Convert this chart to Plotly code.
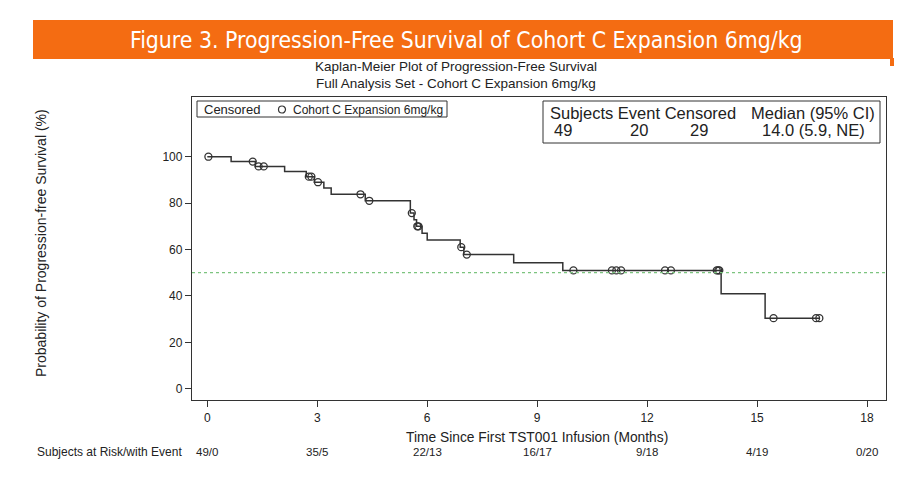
import plotly.graph_objects as go

# ---------------- data ----------------
step_times = [0, 0.65, 1.31, 2.11, 2.70, 2.92, 3.18, 3.38, 4.31, 5.54, 5.64, 5.71,
              5.86, 6.00, 6.90, 7.00, 8.36, 9.70, 14.02, 15.22, 16.70]
step_surv = [100, 97.9, 95.8, 93.6, 91.4, 89.0, 86.5, 83.8, 81.0, 75.7, 72.8, 70.0,
             67.0, 64.1, 61.0, 57.8, 54.3, 51.0, 40.9, 30.4, 30.4]

censor_times = [0.03, 1.24, 1.40, 1.54, 2.77, 2.84, 3.02, 4.18, 4.42, 5.58, 5.73, 5.76,
                6.93, 7.08, 9.99, 11.04, 11.16, 11.29, 12.49, 12.65, 13.90, 13.94,
                13.97, 15.45, 16.61, 16.70]
censor_surv = [100, 97.9, 95.8, 95.8, 91.4, 91.4, 89.0, 83.8, 81.0, 75.7, 70.0, 70.0,
               61.0, 57.8, 51.0, 51.0, 51.0, 51.0, 51.0, 51.0, 51.0, 51.0,
               51.0, 30.4, 30.4, 30.4]

x_ticks = [0, 3, 6, 9, 12, 15, 18]
y_ticks = [0, 20, 40, 60, 80, 100]
risk_labels = ["49/0", "35/5", "22/13", "16/17", "9/18", "4/19", "0/20"]
median_line = 50

stats_header_left = "Subjects Event Censored"
stats_header_right = "Median (95% CI)"
stats_values = ["49", "20", "29", "14.0 (5.9, NE)"]

title_text = "Figure 3. Progression-Free Survival of Cohort C Expansion 6mg/kg"
subtitle1 = "Kaplan-Meier Plot of Progression-Free Survival"
subtitle2 = "Full Analysis Set - Cohort C Expansion 6mg/kg"

# ---------------- layout geometry (reference pixels) ----------------
OFF = 8  # page body margin in the browser
WIDTH, HEIGHT = 921 - OFF, 484 - OFF
L, R, T, B = 192, 886, 97, 400
PW, PH = R - L, B - T


def px(x):
    return (x - L) / PW


def py(y):
    return (B - y) / PH


ARIAL = "Liberation Sans, Arial, sans-serif"
TXT = "#222222"
LINE = "#333333"

fig = go.Figure()

fig.add_trace(go.Scatter(
    x=step_times, y=step_surv, mode="lines", line_shape="hv",
    line=dict(color=LINE, width=1.5), hoverinfo="skip", showlegend=False))

fig.add_trace(go.Scatter(
    x=censor_times, y=censor_surv, mode="markers",
    marker=dict(symbol="circle-open", size=7, color=LINE, line=dict(width=1.3)),
    hoverinfo="skip", showlegend=False))

shapes = []
annotations = []

# orange banner
shapes.append(dict(type="rect", xref="paper", yref="paper",
                   x0=px(33), x1=px(893), y0=py(59), y1=py(20),
                   fillcolor="#F46C12", line=dict(width=0), layer="below"))
shapes.append(dict(type="rect", xref="paper", yref="paper",
                   x0=px(890), x1=px(894), y0=py(66), y1=py(58),
                   fillcolor="#F46C12", line=dict(width=0), layer="below"))
annotations.append(dict(text=title_text, xref="paper", yref="paper",
                        x=px(466), y=py(40), xanchor="center", yanchor="middle",
                        showarrow=False,
                        font=dict(family="DejaVu Sans Condensed, Liberation Sans Narrow, sans-serif",
                                  size=22.8, color="white")))

# subtitles
annotations.append(dict(text=subtitle1, xref="paper", yref="paper",
                        x=px(456), y=py(67), xanchor="center", yanchor="middle",
                        showarrow=False, font=dict(family=ARIAL, size=13.5, color=TXT)))
annotations.append(dict(text=subtitle2, xref="paper", yref="paper",
                        x=px(456), y=py(83), xanchor="center", yanchor="middle",
                        showarrow=False, font=dict(family=ARIAL, size=13.5, color=TXT)))

# median reference line
shapes.append(dict(type="line", xref="paper", yref="y", x0=0, x1=1,
                   y0=median_line, y1=median_line,
                   line=dict(color="#7CC47F", width=1.2, dash="dot")))

# legend box
shapes.append(dict(type="rect", xref="paper", yref="paper",
                   x0=px(197), x1=px(447), y0=py(117), y1=py(101),
                   line=dict(color=LINE, width=1), fillcolor="white"))
annotations.append(dict(text="Censored", xref="paper", yref="paper",
                        x=px(202), y=py(109.5), xanchor="left", yanchor="middle",
                        showarrow=False, font=dict(family=ARIAL, size=13, color=TXT)))
shapes.append(dict(type="circle", xref="paper", yref="paper",
                   xsizemode="pixel", ysizemode="pixel",
                   xanchor=px(282), yanchor=py(109.5),
                   x0=-3.5, x1=3.5, y0=-3.5, y1=3.5,
                   line=dict(color=LINE, width=1.2)))
annotations.append(dict(text="Cohort C Expansion 6mg/kg", xref="paper", yref="paper",
                        x=px(291), y=py(109.5), xanchor="left", yanchor="middle",
                        showarrow=False, font=dict(family=ARIAL, size=12, color=TXT)))

# stats box
shapes.append(dict(type="rect", xref="paper", yref="paper",
                   x0=px(543), x1=px(880), y0=py(143), y1=py(101),
                   line=dict(color=LINE, width=1), fillcolor="white"))
annotations.append(dict(text=stats_header_left, xref="paper", yref="paper",
                        x=px(548), y=py(113), xanchor="left", yanchor="middle",
                        showarrow=False, font=dict(family=ARIAL, size=16.5, color=TXT)))
annotations.append(dict(text=stats_header_right, xref="paper", yref="paper",
                        x=px(877), y=py(113), xanchor="right", yanchor="middle",
                        showarrow=False, font=dict(family=ARIAL, size=16.5, color=TXT)))
val_x = [552, 628, 688, 867]
val_anchor = ["left", "left", "left", "right"]
for txt, xx, an in zip(stats_values, val_x, val_anchor):
    annotations.append(dict(text=txt, xref="paper", yref="paper",
                            x=px(xx), y=py(130), xanchor=an, yanchor="middle",
                            showarrow=False, font=dict(family=ARIAL, size=16.5, color=TXT)))

# risk table
annotations.append(dict(text="Subjects at Risk/with Event", xref="paper", yref="paper",
                        x=px(35), y=py(452), xanchor="left", yanchor="middle",
                        showarrow=False, font=dict(family=ARIAL, size=12, color=TXT)))
for xt, lab in zip(x_ticks, risk_labels):
    annotations.append(dict(text=lab, xref="x", yref="paper",
                            x=xt, y=py(452), xanchor="center", yanchor="middle",
                            showarrow=False, font=dict(family=ARIAL, size=11.5, color=TXT)))

# axis titles
annotations.append(dict(text="Time Since First TST001 Infusion (Months)", xref="paper", yref="paper",
                        x=px(537), y=py(437), xanchor="center", yanchor="middle",
                        showarrow=False, font=dict(family=ARIAL, size=13.8, color=TXT)))
annotations.append(dict(text="Probability of Progression-free Survival (%)", xref="paper", yref="paper",
                        x=px(41), y=py(243), xanchor="center", yanchor="middle", textangle=-90,
                        showarrow=False, font=dict(family=ARIAL, size=14, color=TXT)))

# axis ranges computed from pixel calibration
x0_px, x18_px = 207.3, 867.0
ppm = (x18_px - x0_px) / 18
xr = [(L - x0_px) / ppm, (R - x0_px) / ppm]
y100_px, y0_px = 156.7, 388.7
ppp = (y0_px - y100_px) / 100
yr = [-(B - y0_px) / ppp, (y0_px - T) / ppp]

fig.update_layout(
    width=WIDTH, height=HEIGHT, autosize=False,
    margin=dict(l=L - OFF, r=921 - R, t=T - OFF, b=484 - B, pad=0),
    paper_bgcolor="white", plot_bgcolor="white",
    shapes=shapes, annotations=annotations, showlegend=False,
    xaxis=dict(range=xr, tickvals=x_ticks, ticktext=[str(v) for v in x_ticks],
               showgrid=False, zeroline=False, showline=True, mirror=True,
               linecolor=LINE, linewidth=1.3, ticks="outside", ticklen=6,
               tickcolor=LINE, tickwidth=1,
               tickfont=dict(family=ARIAL, size=12, color=TXT)),
    yaxis=dict(range=yr, tickvals=y_ticks, ticktext=[str(v) for v in y_ticks],
               showgrid=False, zeroline=False, showline=True, mirror=True,
               linecolor=LINE, linewidth=1.3, ticks="outside", ticklen=6,
               tickcolor=LINE, tickwidth=1,
               tickfont=dict(family=ARIAL, size=12, color=TXT)),
)

fig.write_html("out.html")
